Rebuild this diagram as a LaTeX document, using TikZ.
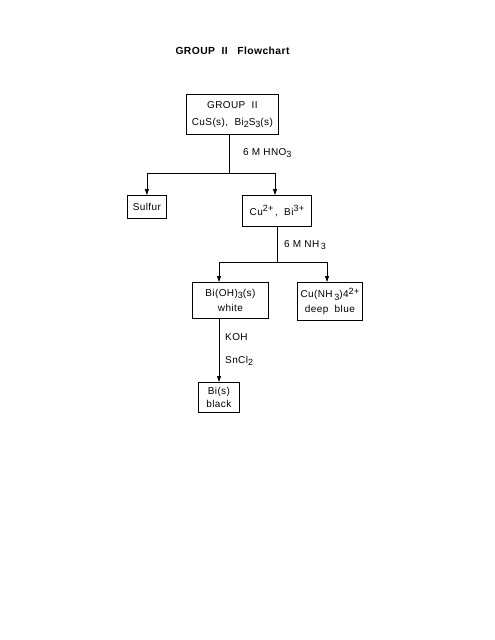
\documentclass[tikz,border=0pt]{standalone}
\usepackage{fontspec}
\setmainfont{Liberation Sans}[LetterSpace=4]
\usetikzlibrary{arrows.meta}
\newcommand{\mysb}[1]{\raisebox{-0.22em}{\fontsize{9}{9}\selectfont #1}}
\newcommand{\mysp}[1]{\raisebox{0.38em}{\fontsize{9}{9}\selectfont #1}}
\begin{document}
\begin{tikzpicture}[x=1pt,y=-1pt,
  box/.style={draw,line width=0.8pt,inner sep=0pt,anchor=north west,align=center,font=\fontsize{10}{13}\selectfont},
  lbl/.style={anchor=west,font=\fontsize{10}{11}\selectfont,inner sep=0pt},
  conn/.style={line width=0.8pt},
  arr/.style={line width=0.8pt,-{Triangle[width=4pt,length=6pt]}}]
\useasboundingbox (0,0) rectangle (495,640);
\node[font=\bfseries\fontsize{10.3}{12}\selectfont] (title) at (232.5,50.5) {GROUP\ \ II\ \ \ Flowchart};
% boxes
\node[box,minimum width=92pt,minimum height=40pt] (g2) at (186,94) {GROUP\ \ II\\[4pt]CuS(s),\ \ Bi\mysb{2}S\mysb{3}(s)};
\node[box,minimum width=39pt,minimum height=23pt] (sulfur) at (127,195) {Sulfur};
\node[box,minimum width=69pt,minimum height=31pt] (cubi) at (242,195) {Cu\mysp{2+}\,,\ \ Bi\mysp{3+}};
\node[box,minimum width=76pt,minimum height=36pt] (bioh) at (192,282) {Bi(OH)\mysb{3}(s)\\[2pt]white};
\node[box,minimum width=65pt,minimum height=38pt] (cunh) at (297,282) {Cu(NH\,\mysb{3})4\mysp{2+}\\[2pt]deep\ \ blue};
\node[box,minimum width=41pt,minimum height=30pt] (bis) at (198,382) {Bi(s)\\black};
% junctions
\coordinate (j1) at (229,173);
\coordinate (j2) at (277,262);
\draw[conn] (g2.south -| j1) -- (j1);
\draw[arr] (j1) -| (sulfur.north);
\draw[arr] (j1) -| (cubi.north -| 275,0);
\draw[conn] (cubi.south -| j2) -- (j2);
\draw[arr] (j2) -| (bioh.north -| 219,0);
\draw[arr] (j2) -| (cunh.north -| 327,0);
\draw[arr] (bioh.south -| 219,0) -- (bis.north -| 219,0);
% labels
\node[lbl] (hno3) at (243,153) {6 M HNO\mysb{3}};
\node[lbl] (nh3) at (284,245) {6 M NH\,\mysb{3}};
\node[lbl] (koh) at (225,337) {KOH};
\node[lbl] (sncl) at (225,361) {SnCl\mysb{2}};
\end{tikzpicture}
\end{document}
